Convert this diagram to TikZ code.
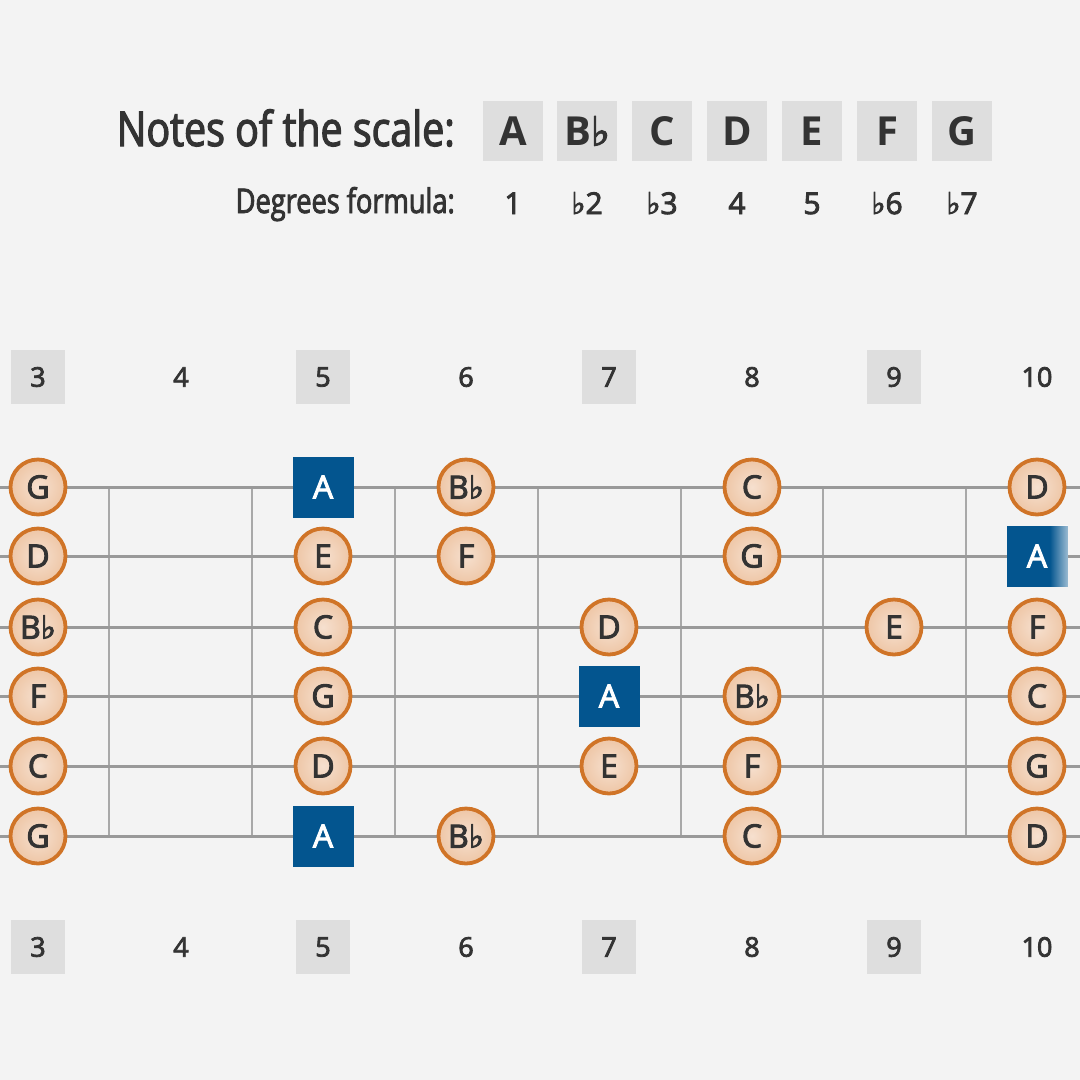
\documentclass[tikz,border=0pt]{standalone}
\usepackage{fontspec}
\setmainfont{Open Sans}
\newfontfamily\semifont[FakeBold=3]{Open Sans}
\newfontfamily\condfont[FakeStretch=0.82, FakeBold=2.5]{Open Sans}
\newfontfamily\smallcondfont[FakeStretch=0.8, FakeBold=2.5]{Open Sans}
\newfontfamily\flatfont[FakeBold=3]{DejaVu Sans}
\usetikzlibrary{positioning,
                shadings,
                fadings}
\definecolor{paper}{HTML}{F3F3F3}
\definecolor{ink}{HTML}{333333}
\definecolor{peachin}{HTML}{F6E0CF}
\definecolor{peachout}{HTML}{EEC6A6}
\definecolor{rim}{HTML}{D07427}
\definecolor{rootblue}{HTML}{03558F}
\definecolor{boxgray}{HTML}{DEDEDE}
\definecolor{wire}{HTML}{999999}
\newcommand{\flt}{{\flatfont ♭}}
\tikzstyle{note} = [circle, minimum size=55pt, inner sep=0pt, line width=3.8pt, draw=rim, inner color=peachin, outer color=peachout, text=ink, font=\semifont\fontsize{32}{32}\selectfont]
\tikzstyle{root} = [rectangle, minimum size=61pt, inner sep=0pt, fill=rootblue, text=white, font=\semifont\fontsize{32}{32}\selectfont]
\tikzstyle{scalebox} = [rectangle, minimum size=60pt, inner sep=0pt, fill=boxgray, text=ink, font=\bfseries\fontsize{40}{40}\selectfont]
\tikzstyle{degree} = [inner sep=0pt, anchor=base, text=ink, font=\semifont\fontsize{30}{30}\selectfont]
\tikzstyle{fretnum} = [rectangle, minimum size=54pt, inner sep=0pt, text=ink, font=\semifont\fontsize{27}{27}\selectfont]
\tikzstyle{fretbox} = [fretnum, fill=boxgray]
\tikzstyle{string} = [draw=wire, line width=3pt]
\tikzstyle{fretline} = [draw=wire!85, line width=2.6pt]

\begin{document}
\begin{tikzpicture}[x=1pt, y=-1pt]
\fill[paper] (0,0) rectangle (1080,1080);
\useasboundingbox (0,0) rectangle (1080,1080);

% columns and rows
\foreach \f/\x in {3/38, 4/181, 5/323, 6/466, 7/609, 8/752, 9/894, 10/1037}
  \coordinate (f\f) at (\x,0);
\foreach \s/\y in {1/487, 2/556, 3/627, 4/696, 5/766, 6/836}
  \coordinate (s\s) at (0,\y);

% heading
\node (title) [anchor=base east, inner sep=0pt, text=ink, font=\condfont\fontsize{48}{48}\selectfont] at (455,146) {Notes of the scale:};
\node (formula) [anchor=base east, inner sep=0pt, text=ink, font=\smallcondfont\fontsize{34}{34}\selectfont] at (455,213) {Degrees formula:};
\foreach \n/\x/\d [count=\i] in {A/513/1, B\flt/587/\flt2, C/662/\flt3, D/737/4, E/812/5, F/887/\flt6, G/962/\flt7} {
  \node (sc\i) [scalebox] at (\x,131) {\n};
  \node (dg\i) [degree] at (\x,214) {\d};
}

% fret numbers
\foreach \f in {3,5,7,9} {
  \node (top\f) [fretbox] at (f\f |- 0,377) {\f};
  \node (bot\f) [fretbox] at (f\f |- 0,947) {\f};
}
\foreach \f in {4,6,8,10} {
  \node (top\f) [fretnum] at (f\f |- 0,377) {\f};
  \node (bot\f) [fretnum] at (f\f |- 0,947) {\f};
}

% fretboard
\foreach \x in {109, 252, 395, 538, 681, 823, 966}
  \draw[fretline] (\x,487) -- (\x,836);
\foreach \s in {1,...,6}
  \draw[string] (s\s) -- ([xshift=1080pt]s\s);

% string 1
\node (s1f3) [note] at (f3 |- s1) {G};
\node (s1f5) [root] at (f5 |- s1) {A};
\node (s1f6) [note] at (f6 |- s1) {B\flt};
\node (s1f8) [note] at (f8 |- s1) {C};
\node (s1f10) [note] at (f10 |- s1) {D};
% string 2
\node (s2f3) [note] at (f3 |- s2) {D};
\node (s2f5) [note] at (f5 |- s2) {E};
\node (s2f6) [note] at (f6 |- s2) {F};
\node (s2f8) [note] at (f8 |- s2) {G};
\node (s2f10) [root] at (f10 |- s2) {A};
\fill[white, path fading=west, opacity=0.6] ([xshift=-18pt]s2f10.north east) rectangle (s2f10.south east);
% string 3
\node (s3f3) [note] at (f3 |- s3) {B\flt};
\node (s3f5) [note] at (f5 |- s3) {C};
\node (s3f7) [note] at (f7 |- s3) {D};
\node (s3f9) [note] at (f9 |- s3) {E};
\node (s3f10) [note] at (f10 |- s3) {F};
% string 4
\node (s4f3) [note] at (f3 |- s4) {F};
\node (s4f5) [note] at (f5 |- s4) {G};
\node (s4f7) [root] at (f7 |- s4) {A};
\node (s4f8) [note] at (f8 |- s4) {B\flt};
\node (s4f10) [note] at (f10 |- s4) {C};
% string 5
\node (s5f3) [note] at (f3 |- s5) {C};
\node (s5f5) [note] at (f5 |- s5) {D};
\node (s5f7) [note] at (f7 |- s5) {E};
\node (s5f8) [note] at (f8 |- s5) {F};
\node (s5f10) [note] at (f10 |- s5) {G};
% string 6
\node (s6f3) [note] at (f3 |- s6) {G};
\node (s6f5) [root] at (f5 |- s6) {A};
\node (s6f6) [note] at (f6 |- s6) {B\flt};
\node (s6f8) [note] at (f8 |- s6) {C};
\node (s6f10) [note] at (f10 |- s6) {D};
\end{tikzpicture}
\end{document}
